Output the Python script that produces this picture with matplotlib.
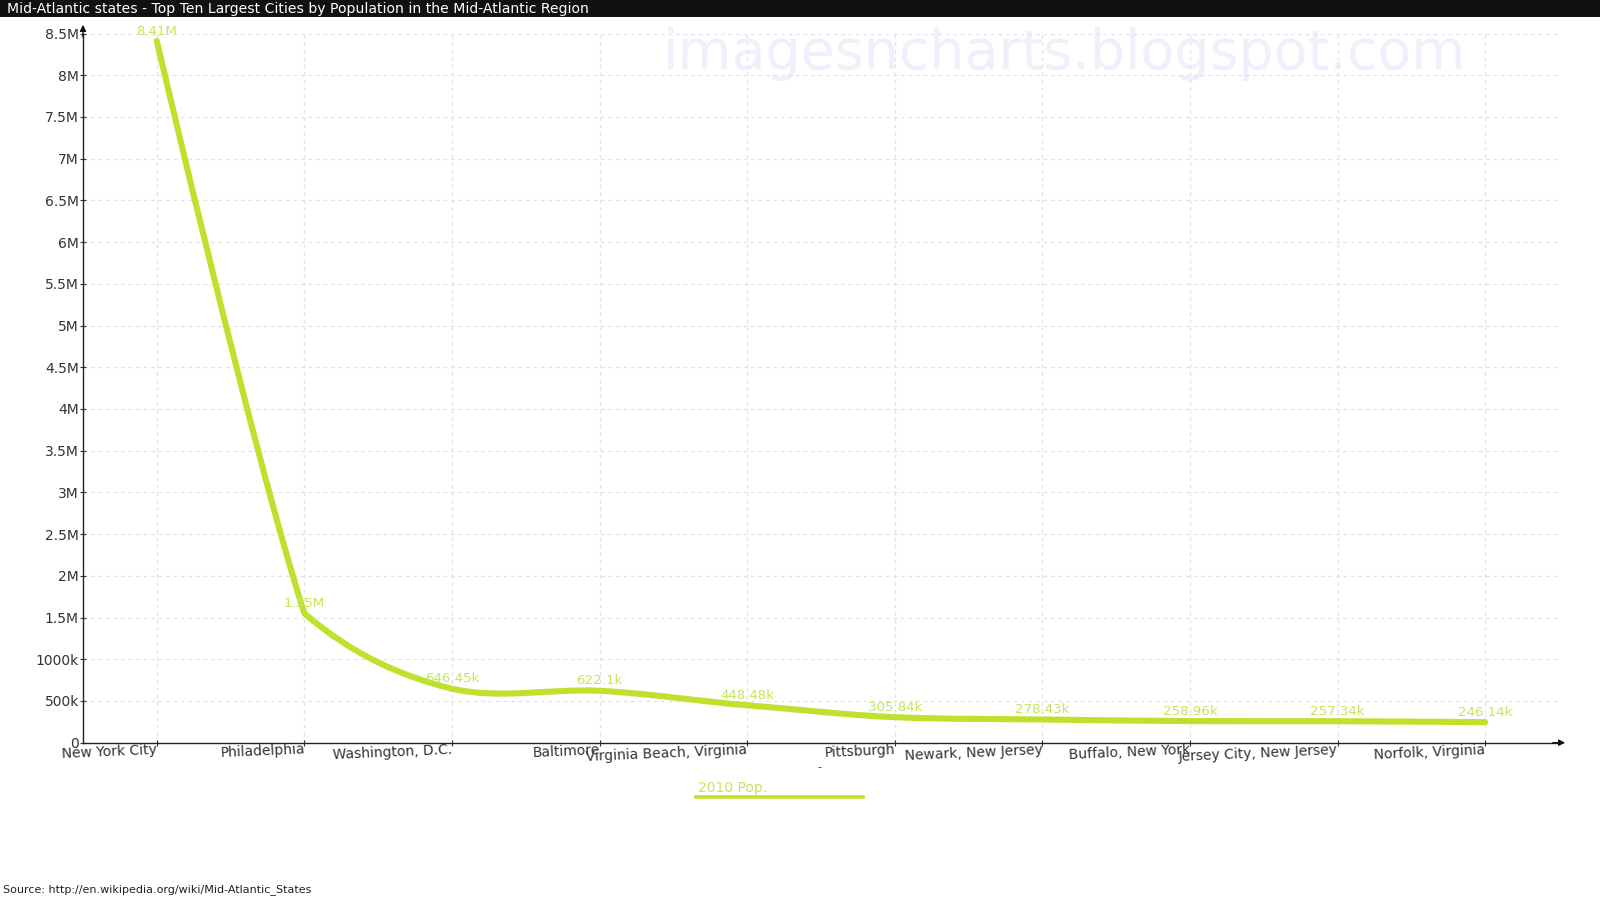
import numpy as np
import matplotlib
matplotlib.use("Agg")
import matplotlib.pyplot as plt
from matplotlib.path import Path
from matplotlib.patches import PathPatch, Rectangle

TITLE = "Mid-Atlantic states - Top Ten Largest Cities by Population in the Mid-Atlantic Region"
SOURCE = "Source: http://en.wikipedia.org/wiki/Mid-Atlantic_States"
SERIES = "2010 Pop."

cities = ["New York City", "Philadelphia", "Washington, D.C.", "Baltimore",
          "Virginia Beach, Virginia", "Pittsburgh", "Newark, New Jersey",
          "Buffalo, New York", "Jersey City, New Jersey", "Norfolk, Virginia"]
pop = [8410000, 1550000, 646450, 622100, 448480, 305840, 278430, 258960, 257340, 246140]
pop_labels = ["8.41M", "1.55M", "646.45k", "622.1k", "448.48k", "305.84k",
              "278.43k", "258.96k", "257.34k", "246.14k"]

y_ticks = [0, 500000, 1000000, 1500000, 2000000, 2500000, 3000000, 3500000, 4000000,
           4500000, 5000000, 5500000, 6000000, 6500000, 7000000, 7500000, 8000000, 8500000]
y_tick_labels = ["0", "500k", "1000k", "1.5M", "2M", "2.5M", "3M", "3.5M", "4M",
                 "4.5M", "5M", "5.5M", "6M", "6.5M", "7M", "7.5M", "8M", "8.5M"]

W, H = 1600, 900
LINE_C = "#bde12d"
LABEL_C = "#c8e45e"
TEXT_C = "#333333"
GRID_C = "#e2e2e2"
TENSION = 0.3


def fx(px):
    return px / W


def fy(py):
    return 1 - py / H


def smooth_path(ax, xs, ys):
    """Bezier through the points; handle heights weighted by pixel chord lengths."""
    P = ax.transData.transform(np.column_stack([xs, ys]).astype(float))
    n = len(P)
    c_in = P.copy()
    c_out = P.copy()
    for i in range(1, n - 1):
        d01 = np.linalg.norm(P[i] - P[i - 1])
        d12 = np.linalg.norm(P[i + 1] - P[i])
        dy = P[i + 1, 1] - P[i - 1, 1]
        c_in[i] = (P[i, 0] - (P[i, 0] - P[i - 1, 0]) / 3,
                   P[i, 1] - TENSION * dy * d01 / (d01 + d12))
        c_out[i] = (P[i, 0] + (P[i + 1, 0] - P[i, 0]) / 3,
                    P[i, 1] + TENSION * dy * d12 / (d01 + d12))
    verts = [P[0]]
    codes = [Path.MOVETO]
    for i in range(n - 1):
        verts += [c_out[i], c_in[i + 1], P[i + 1]]
        codes += [Path.CURVE4] * 3
    return Path(ax.transData.inverted().transform(np.array(verts)), codes)


fig = plt.figure(figsize=(16, 9), dpi=100)
fig.patch.set_facecolor("white")

# title band
fig.add_artist(Rectangle((0, fy(17)), 1, 17 / H, transform=fig.transFigure,
                         facecolor="#111111", edgecolor="none"))
fig.text(fx(7), fy(9), TITLE, color="white", fontsize=10.1, va="center", ha="left")

# watermark, under the grid
fig.text(fx(1064), fy(54), "imagesncharts.blogspot.com", color="#eef0fb",
         fontsize=40, ha="center", va="center", zorder=-1)

ax = fig.add_axes([fx(83), fy(742.7), (1559 - 83) / W, (742.7 - 33.5) / H])
ax.set_facecolor("none")
x = np.arange(len(cities))
ax.set_xlim(-0.5, len(cities) - 0.5)
ax.set_ylim(0, 8500000)

ax.add_patch(PathPatch(smooth_path(ax, x, pop), facecolor="none", edgecolor=LINE_C,
                       lw=4.4, capstyle="round", joinstyle="round", zorder=3))

for xi, v, lab in zip(x, pop, pop_labels):
    ax.annotate(lab, (xi, v), xytext=(0, 7.2), textcoords="offset points",
                ha="center", va="center", color=LABEL_C, fontsize=9.6, zorder=4)

ax.set_yticks(y_ticks)
ax.set_yticklabels(y_tick_labels)
ax.set_xticks(x)
ax.set_xticklabels(cities, rotation=2.5, ha="right", rotation_mode="anchor")
ax.tick_params(axis="y", colors=TEXT_C, labelsize=10, length=4, direction="inout", pad=1)
ax.tick_params(axis="x", colors=TEXT_C, labelsize=10, length=4, direction="inout", pad=-2)

ax.grid(True, color=GRID_C, linestyle=(0, (3, 3)), linewidth=0.9)
ax.set_axisbelow(True)
for s in ["top", "right"]:
    ax.spines[s].set_visible(False)
for s in ["left", "bottom"]:
    ax.spines[s].set_color("#222222")
    ax.spines[s].set_linewidth(1.0)

# axis arrows
ax.annotate("", xy=(fx(1568), fy(742.7)), xytext=(fx(1550), fy(742.7)),
            xycoords="figure fraction",
            arrowprops=dict(arrowstyle="-|>", color="#111111", lw=1.0, mutation_scale=9))
ax.annotate("", xy=(fx(83), fy(22)), xytext=(fx(83), fy(40)),
            xycoords="figure fraction",
            arrowprops=dict(arrowstyle="-|>", color="#111111", lw=1.0, mutation_scale=9))

# legend
fig.text(fx(819), fy(767), "-", color=TEXT_C, fontsize=8, ha="center", va="center")
fig.text(fx(698), fy(788), SERIES, color=LABEL_C, fontsize=10, ha="left", va="center")
fig.add_artist(plt.Line2D([fx(696), fx(863)], [fy(797), fy(797)],
                          transform=fig.transFigure, color=LINE_C, lw=2.6))

fig.text(fx(3), fy(890), SOURCE, color="#222222", fontsize=8, ha="left", va="center")

fig.savefig("out.png", dpi=100)
